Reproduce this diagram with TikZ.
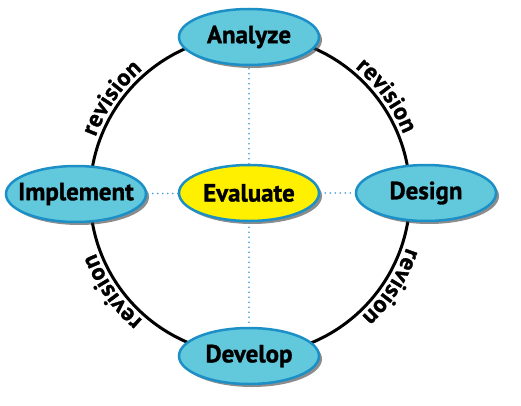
\documentclass[tikz,border=0pt]{standalone}
\usepackage{fontspec}
\setmainfont{PT Sans}[BoldFeatures={FakeBold=1.2}]
\usetikzlibrary{shapes.geometric,shadows,decorations.text}
\definecolor{cyanfill}{HTML}{62C9DD}
\definecolor{cyanedge}{HTML}{1C8FC6}
\definecolor{evalfill}{HTML}{FFF000}
\definecolor{dotblue}{HTML}{3A98D6}
\begin{document}
\begin{tikzpicture}[x=1bp,y=1bp,
  phase/.style={ellipse, draw=cyanedge, line width=2.5bp, fill=cyanfill,
    minimum width=140bp, minimum height=56bp, inner sep=0pt,
    font=\bfseries\fontsize{25}{25}\selectfont,
    drop shadow={shadow xshift=3bp, shadow yshift=-3bp, fill=black!75, opacity=0.6}},
  evalbox/.style={phase, fill=evalfill},
  dotline/.style={dotblue, line width=1.8bp, line cap=round, dash pattern=on 0bp off 5bp},
  cycleline/.style={line width=3bp, black},
  revlabel/.style={decorate, decoration={text along path, text align=center, raise=5bp,
    text={|\bfseries\fontsize{24}{24}\selectfont|revision}}}
]
\useasboundingbox (0,0) rectangle (521,405);
\coordinate (c) at (250,210);
\draw[cycleline] (c) circle[radius=160];
\path[revlabel] ([shift={(180:160)}]c) arc[start angle=180, end angle=110, radius=160];
\path[revlabel] ([shift={(71:160)}]c) arc[start angle=71, end angle=1, radius=160];
\path[revlabel] ([shift={(362:160)}]c) arc[start angle=362, end angle=292, radius=160];
\path[revlabel] ([shift={(250:160)}]c) arc[start angle=250, end angle=180, radius=160];
\node[phase] (an) at (249,368) {\makebox[0pt]{Analyze}};
\node[phase] (dv) at (249,49) {\makebox[0pt]{Develop}};
\node[phase] (ds) at (426,212) {\makebox[0pt]{Design}};
\node[phase] (im) at (76,211) {\makebox[0pt]{Implement}};
\node[evalbox] (ev) at (249,212) {\makebox[0pt]{Evaluate}};
\draw[dotline] (ev) -- (an);
\draw[dotline] (ev) -- (dv);
\draw[dotline] (ev) -- (ds);
\draw[dotline] (ev) -- (im);
\end{tikzpicture}
\end{document}
